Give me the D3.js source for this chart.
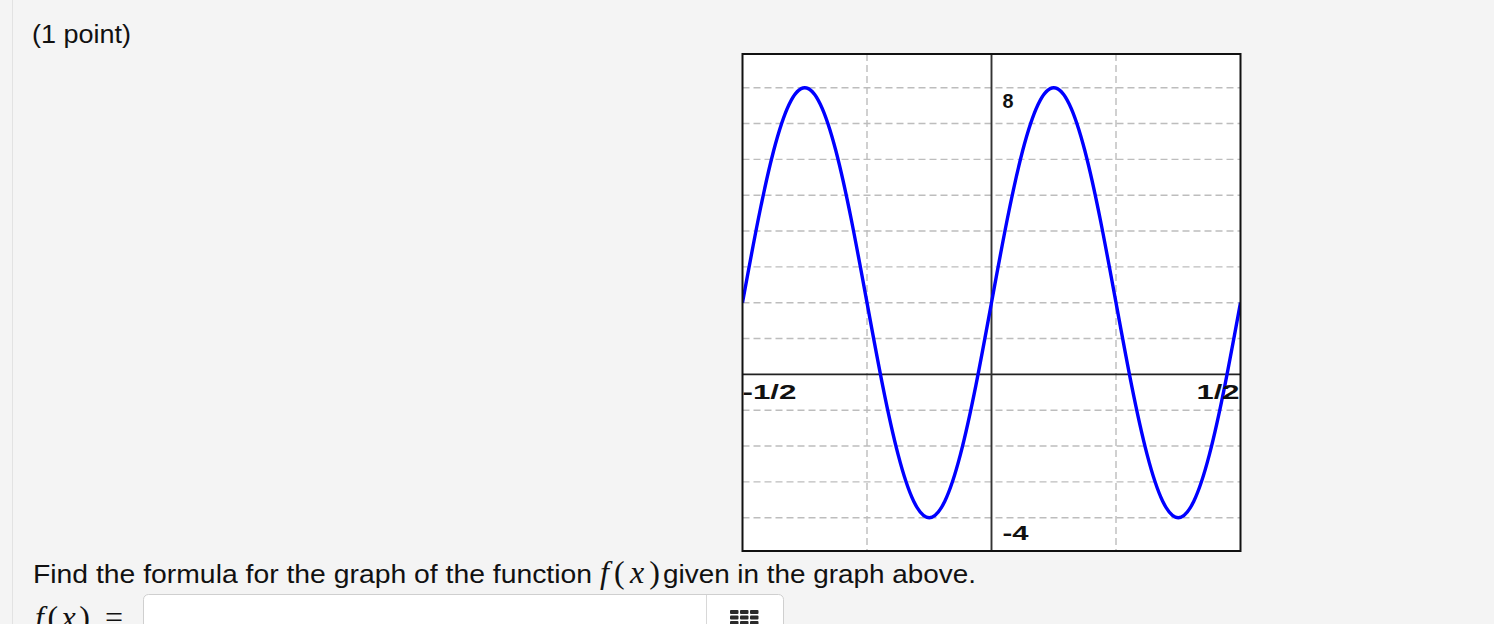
<!DOCTYPE html>
<html>
<head>
<meta charset="utf-8">
<script src="https://cdn.jsdelivr.net/npm/d3@7"></script>
<style>
  html, body { margin: 0; padding: 0; background: #f4f4f4; }
  svg { display: block; }
</style>
</head>
<body>
<svg id="chart" width="1494" height="624"></svg>
<script>
// ---- data ----
const xDomain = [-0.5, 0.5];
const yDomain = [-4.93, 8.94];
const xGrid = [-0.25, 0.25];
const yGrid = [-4, -3, -2, -1, 1, 2, 3, 4, 5, 6, 7, 8];
const xTickLabels = [{v: -0.5, t: "-1/2"}, {v: 0.5, t: "1/2"}];
const yTickLabels = [{v: 8, t: "8"}, {v: -4, t: "-4"}];
const curveX = [-0.5, -0.46875, -0.4375, -0.40625, -0.375, -0.34375, -0.3125, -0.28125,
  -0.25, -0.21875, -0.1875, -0.15625, -0.125, -0.09375, -0.0625, -0.03125,
  0, 0.03125, 0.0625, 0.09375, 0.125, 0.15625, 0.1875, 0.21875,
  0.25, 0.28125, 0.3125, 0.34375, 0.375, 0.40625, 0.4375, 0.46875, 0.5];
const curveY = [2, 4.3, 6.24, 7.54, 8, 7.54, 6.24, 4.3,
  2, -0.3, -2.24, -3.54, -4, -3.54, -2.24, -0.3,
  2, 4.3, 6.24, 7.54, 8, 7.54, 6.24, 4.3,
  2, -0.3, -2.24, -3.54, -4, -3.54, -2.24, -0.3, 2];

const svg = d3.select("#chart");
const x = d3.scaleLinear().domain(xDomain).range([742.5, 1240.5]);
const y = d3.scaleLinear().domain(yDomain).range([551, 54]);

// page left rule
svg.append("line").attr("x1", 12.5).attr("x2", 12.5).attr("y1", 0).attr("y2", 624)
  .attr("stroke", "#e2e2e2").attr("stroke-width", 1);

const sans = "'Liberation Sans', Arial, Helvetica, sans-serif";
const serif = "'Liberation Serif', 'Times New Roman', serif";

// title
svg.append("text").attr("x", 32).attr("y", 43)
  .attr("font-family", sans).attr("font-size", 26).attr("fill", "#111")
  .attr("textLength", 99).attr("lengthAdjust", "spacingAndGlyphs").text("(1 point)");

// plot
const g = svg.append("g");
g.append("rect").attr("x", x(-0.5)).attr("y", y(yDomain[1]))
  .attr("width", x(0.5) - x(-0.5)).attr("height", y(yDomain[0]) - y(yDomain[1]))
  .attr("fill", "#fff");

g.selectAll(".hg").data(yGrid).join("line")
  .attr("x1", x(-0.5)).attr("x2", x(0.5))
  .attr("y1", d => y(d)).attr("y2", d => y(d))
  .attr("stroke", "#bdbdbd").attr("stroke-width", 1.4).attr("stroke-dasharray", "7,4");
g.selectAll(".vg").data(xGrid).join("line")
  .attr("x1", d => x(d)).attr("x2", d => x(d))
  .attr("y1", y(yDomain[1])).attr("y2", y(yDomain[0]))
  .attr("stroke", "#bdbdbd").attr("stroke-width", 1.4).attr("stroke-dasharray", "7,4");

// axes
g.append("line").attr("x1", x(-0.5)).attr("x2", x(0.5)).attr("y1", y(0)).attr("y2", y(0))
  .attr("stroke", "#222").attr("stroke-width", 1.7);
g.append("line").attr("x1", x(0)).attr("x2", x(0)).attr("y1", y(yDomain[1])).attr("y2", y(yDomain[0]))
  .attr("stroke", "#333").attr("stroke-width", 1.9);

// curve
svg.append("clipPath").attr("id", "clip").append("rect")
  .attr("x", x(-0.5)).attr("y", y(yDomain[1]))
  .attr("width", x(0.5) - x(-0.5)).attr("height", y(yDomain[0]) - y(yDomain[1]));
const pts = curveX.map((v, i) => [v, curveY[i]]);
g.append("path").attr("clip-path", "url(#clip)")
  .attr("d", d3.line().x(d => x(d[0])).y(d => y(d[1])).curve(d3.curveNatural)(pts))
  .attr("fill", "none").attr("stroke", "#0000ff").attr("stroke-width", 3.4)
  .attr("stroke-linejoin", "round");

// tick labels
const lblW = {"8": 11, "-4": 26, "-1/2": 54, "1/2": 43};
g.selectAll(".yl").data(yTickLabels).join("text")
  .attr("x", x(0) + 11).attr("y", d => y(d.v) + (d.v > 0 ? 20 : 22))
  .attr("font-family", sans).attr("font-weight", "bold").attr("font-size", 20)
  .attr("fill", "#111").attr("textLength", d => lblW[d.t]).attr("lengthAdjust", "spacingAndGlyphs")
  .text(d => d.t);
g.selectAll(".xl").data(xTickLabels).join("text")
  .attr("x", d => d.v < 0 ? x(d.v) : x(d.v) - 44)
  .attr("y", y(0) + 25)
  .attr("font-family", sans).attr("font-weight", "bold").attr("font-size", 20)
  .attr("fill", "#111").attr("textLength", d => lblW[d.t]).attr("lengthAdjust", "spacingAndGlyphs")
  .text(d => d.t);

// box border
g.append("rect").attr("x", x(-0.5)).attr("y", y(yDomain[1]))
  .attr("width", x(0.5) - x(-0.5)).attr("height", y(yDomain[0]) - y(yDomain[1]))
  .attr("fill", "none").attr("stroke", "#111").attr("stroke-width", 2);

// question text
svg.append("text").attr("x", 33).attr("y", 583).attr("font-family", sans).attr("font-size", 25)
  .attr("fill", "#111").attr("textLength", 559).attr("lengthAdjust", "spacingAndGlyphs")
  .text("Find the formula for the graph of the function");
const fx = svg.append("text").attr("x", 600).attr("y", 583).attr("font-family", serif)
  .attr("font-size", 32).attr("fill", "#111")
  .attr("textLength", 60).attr("lengthAdjust", "spacing");
fx.append("tspan").attr("font-style", "italic").text("f");
fx.append("tspan").text("(");
fx.append("tspan").attr("font-style", "italic").text("x");
fx.append("tspan").text(")");
svg.append("text").attr("x", 663).attr("y", 583).attr("font-family", sans).attr("font-size", 25)
  .attr("fill", "#111").attr("textLength", 313).attr("lengthAdjust", "spacingAndGlyphs")
  .text("given in the graph above.");

// answer line
const fx2 = svg.append("text").attr("x", 35).attr("y", 628).attr("font-family", serif)
  .attr("font-size", 32).attr("fill", "#111")
  .attr("textLength", 88).attr("lengthAdjust", "spacing");
fx2.append("tspan").attr("font-style", "italic").text("f");
fx2.append("tspan").text("(");
fx2.append("tspan").attr("font-style", "italic").text("x");
fx2.append("tspan").text(") =");

svg.append("rect").attr("x", 143.5).attr("y", 594.5).attr("width", 640).attr("height", 60)
  .attr("rx", 5).attr("fill", "#fff").attr("stroke", "#cfcfcf");
svg.append("line").attr("x1", 706.5).attr("x2", 706.5).attr("y1", 595).attr("y2", 624)
  .attr("stroke", "#d8d8d8");
const icon = svg.append("g").attr("fill", "#2a2a2a");
[0, 1, 2].forEach(r => [0, 1, 2].forEach(c => {
  icon.append("rect").attr("x", 730 + c * 10).attr("y", 610 + r * 5.5)
    .attr("width", 8.5).attr("height", 4).attr("rx", 1);
}));
</script>
</body>
</html>
